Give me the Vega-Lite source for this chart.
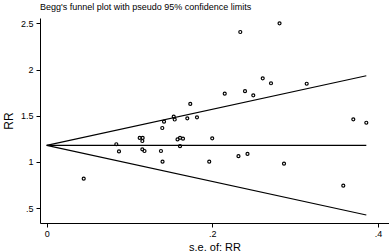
{
  "$schema": "https://vega.github.io/schema/vega-lite/v6.json",
  "width": 349,
  "height": 205,
  "autosize": {"type": "none"},
  "padding": {"left": 40, "top": 18, "right": 0, "bottom": 28},
  "background": "white",
  "title": {
    "text": "Begg's funnel plot with pseudo 95% confidence limits",
    "anchor": "start",
    "frame": "group",
    "font": "Liberation Sans",
    "fontSize": 9,
    "fontWeight": "normal",
    "color": "#000000",
    "offset": 6
  },
  "config": {
    "view": {"stroke": null},
    "axis": {
      "grid": false,
      "domainColor": "#000000",
      "tickColor": "#000000",
      "labelColor": "#000000",
      "titleColor": "#000000",
      "labelFont": "Liberation Sans",
      "titleFont": "Liberation Sans",
      "labelFontSize": 9,
      "titleFontSize": 11,
      "titleFontWeight": "normal",
      "tickSize": 4,
      "domainWidth": 1,
      "tickWidth": 1
    }
  },
  "datasets": {
    "studies": [
      {"se": 0.0447, "rr": 0.819},
      {"se": 0.0841, "rr": 1.192},
      {"se": 0.0873, "rr": 1.114},
      {"se": 0.1123, "rr": 1.260},
      {"se": 0.1159, "rr": 1.260},
      {"se": 0.1155, "rr": 1.227},
      {"se": 0.1155, "rr": 1.137},
      {"se": 0.1181, "rr": 1.119},
      {"se": 0.1380, "rr": 1.119},
      {"se": 0.1399, "rr": 1.003},
      {"se": 0.1396, "rr": 1.368},
      {"se": 0.1417, "rr": 1.436},
      {"se": 0.1534, "rr": 1.490},
      {"se": 0.1546, "rr": 1.460},
      {"se": 0.1580, "rr": 1.244},
      {"se": 0.1610, "rr": 1.262},
      {"se": 0.1646, "rr": 1.252},
      {"se": 0.1610, "rr": 1.171},
      {"se": 0.1698, "rr": 1.473},
      {"se": 0.1734, "rr": 1.628},
      {"se": 0.1815, "rr": 1.484},
      {"se": 0.1963, "rr": 1.003},
      {"se": 0.1999, "rr": 1.256},
      {"se": 0.2150, "rr": 1.739},
      {"se": 0.2316, "rr": 1.063},
      {"se": 0.2338, "rr": 2.407},
      {"se": 0.2395, "rr": 1.766},
      {"se": 0.2425, "rr": 1.087},
      {"se": 0.2495, "rr": 1.722},
      {"se": 0.2609, "rr": 1.906},
      {"se": 0.2709, "rr": 1.852},
      {"se": 0.2812, "rr": 2.501},
      {"se": 0.2866, "rr": 0.982},
      {"se": 0.3140, "rr": 1.847},
      {"se": 0.3582, "rr": 0.744},
      {"se": 0.3703, "rr": 1.462},
      {"se": 0.3860, "rr": 1.425}
    ],
    "lines": [
      {"line": "upper", "se": 0, "rr": 1.18},
      {"line": "upper", "se": 0.386, "rr": 1.934},
      {"line": "center", "se": 0, "rr": 1.18},
      {"line": "center", "se": 0.386, "rr": 1.18},
      {"line": "lower", "se": 0, "rr": 1.18},
      {"line": "lower", "se": 0.386, "rr": 0.426}
    ]
  },
  "layer": [
    {
      "data": {"name": "lines"},
      "mark": {"type": "line", "color": "#000000", "strokeWidth": 1.1},
      "encoding": {
        "x": {
          "field": "se", "type": "quantitative",
          "scale": {"domain": [-0.00809, 0.4134], "nice": false, "zero": false},
          "axis": {
            "title": "s.e. of: RR",
            "values": [0, 0.2, 0.4],
            "labelExpr": "datum.value == 0 ? '0' : (datum.value < 0.3 ? '.2' : '.4')",
            "titlePadding": 3,
            "labelPadding": 2
          }
        },
        "y": {
          "field": "rr", "type": "quantitative",
          "scale": {"domain": [0.3398, 2.5584], "nice": false, "zero": false},
          "axis": {
            "title": "RR",
            "values": [0.5, 1, 1.5, 2, 2.5],
            "labelExpr": "datum.value == 0.5 ? '.5' : format(datum.value, '')",
            "labelPadding": 3,
            "titlePadding": 5,
            "titleFontSize": 12
          }
        },
        "detail": {"field": "line"}
      }
    },
    {
      "data": {"name": "studies"},
      "mark": {"type": "point", "shape": "circle", "filled": false, "color": "#000000", "size": 9, "strokeWidth": 1.2, "opacity": 1},
      "encoding": {
        "x": {"field": "se", "type": "quantitative"},
        "y": {"field": "rr", "type": "quantitative"}
      }
    }
  ]
}
